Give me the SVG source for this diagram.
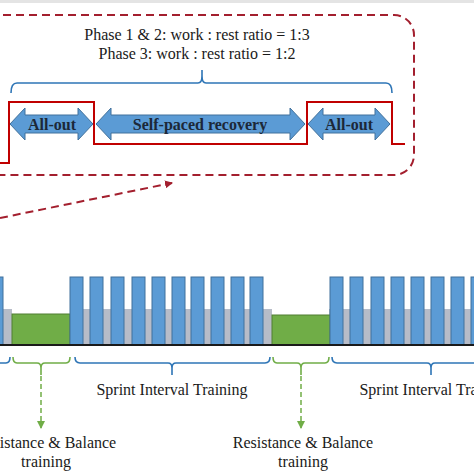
<svg xmlns="http://www.w3.org/2000/svg" width="474" height="474" viewBox="0 0 474 474">
<style>
.t{font-family:"Liberation Serif","Times New Roman",serif;font-size:16px;fill:#1a1a1a;text-anchor:middle}
.b{font-family:"Liberation Serif","Times New Roman",serif;font-size:16px;font-weight:bold;fill:#1c2838;text-anchor:middle}
.bar{fill:#5B9BD5;stroke:#41719C;stroke-width:1}
.rest{fill:#B7BCC8}
.grn{fill:#70AD47;stroke:#507E32;stroke-width:1}
.dbl{fill:#5B9BD5;stroke:#41719C;stroke-width:1}
.braceB{fill:none;stroke:#2E75B6;stroke-width:1.6}
.braceG{fill:none;stroke:#70AD47;stroke-width:1.6}
</style>
<defs>
<marker id="ah" markerWidth="8" markerHeight="8" refX="7" refY="4" orient="auto" markerUnits="userSpaceOnUse"><path d="M0,0 L8,4 L0,8 Z" fill="#A31F2E"/></marker>
<marker id="gh" markerWidth="8" markerHeight="8" refX="7" refY="4" orient="auto" markerUnits="userSpaceOnUse"><path d="M0,0 L8,4 L0,8 Z" fill="#70AD47"/></marker>
</defs>
<rect x="0" y="0" width="474" height="474" fill="#fff"/>
<rect x="0" y="0" width="474" height="3" fill="#e4e4e4"/>

<g id="zoom-box">
<path d="M-10,15 H394 A20,20 0 0 1 414,35 V155 A20,20 0 0 1 394,175 H-10" fill="none" stroke="#A31F2E" stroke-width="2" stroke-dasharray="8,5"/>
<text class="t" x="197" y="40">Phase 1 &amp; 2: work : rest ratio = 1:3</text>
<text class="t" x="197" y="59">Phase 3: work : rest ratio = 1:2</text>
<path class="braceB" d="M11,93 Q11,83 17,83 H198 Q202,83 202,76 L202,70 M202,76 Q202,83 206,83 H386 Q392,83 392,93"/>
<path d="M0,163 H9 V102 H94 V144 H307 V102 H392 V144 H405" fill="none" stroke="#C00000" stroke-width="2"/>
</g>

<g id="all-out-1">
<path class="dbl" d="M10,124 L25,108 V115 H78 V108 L93,124 L78,140 V133 H25 V140 Z"/>
<text class="b" x="52" y="130">All-out</text>
</g>
<g id="self-paced">
<path class="dbl" d="M96,124 L111,108 V115 H290 V108 L305,124 L290,140 V133 H111 V140 Z"/>
<text class="b" x="200" y="130">Self-paced recovery</text>
</g>
<g id="all-out-2">
<path class="dbl" d="M308,124 L323,108 V115 H375 V108 L390,124 L375,140 V133 H323 V140 Z"/>
<text class="b" x="349" y="130">All-out</text>
</g>

<g id="connectors">
<line x1="0" y1="218" x2="172" y2="183" stroke="#A31F2E" stroke-width="2" stroke-dasharray="8,5" marker-end="url(#ah)"/>
<line x1="41" y1="376" x2="41" y2="428" stroke="#70AD47" stroke-width="1.5" stroke-dasharray="5,3" marker-end="url(#gh)"/>
<line x1="301" y1="376" x2="301" y2="428" stroke="#70AD47" stroke-width="1.5" stroke-dasharray="5,3" marker-end="url(#gh)"/>
</g>

<g id="chart">
<rect class="rest" x="0" y="309" width="12" height="36"/>
<rect class="rest" x="70" y="309" width="202" height="36"/>
<rect class="rest" x="329" y="309" width="145" height="36"/>
<rect class="grn" x="12" y="314" width="58" height="31"/>
<rect class="grn" x="272" y="315" width="58" height="30"/>
<rect class="bar" x="-10" y="277" width="13" height="68"/>
<rect class="bar" x="70" y="277" width="13" height="68"/>
<rect class="bar" x="90" y="277" width="13" height="68"/>
<rect class="bar" x="111" y="277" width="13" height="68"/>
<rect class="bar" x="132" y="277" width="13" height="68"/>
<rect class="bar" x="152" y="277" width="13" height="68"/>
<rect class="bar" x="172" y="277" width="13" height="68"/>
<rect class="bar" x="191" y="277" width="13" height="68"/>
<rect class="bar" x="211" y="277" width="13" height="68"/>
<rect class="bar" x="231" y="277" width="13" height="68"/>
<rect class="bar" x="250" y="277" width="13" height="68"/>
<rect class="bar" x="330" y="277" width="13" height="68"/>
<rect class="bar" x="350" y="277" width="13" height="68"/>
<rect class="bar" x="371" y="277" width="13" height="68"/>
<rect class="bar" x="391" y="277" width="13" height="68"/>
<rect class="bar" x="411" y="277" width="13" height="68"/>
<rect class="bar" x="431" y="277" width="13" height="68"/>
<rect class="bar" x="451" y="277" width="13" height="68"/>
<rect class="bar" x="471" y="277" width="13" height="68"/>
<line x1="0" y1="345" x2="474" y2="345" stroke="#1a1a1a" stroke-width="2"/>
</g>

<g id="braces">
<path class="braceB" d="M-5,363 H6 Q10,363 10,357"/>
<path class="braceG" d="M13,357 Q13,363 17,363 H37 Q41,363 41,368 L41,375 M41,368 Q41,363 45,363 H66 Q70,363 70,357"/>
<path class="braceB" d="M75,357 Q75,363 80,363 H168 Q172,363 172,368 L172,375 M172,368 Q172,363 176,363 H265 Q270,363 270,357"/>
<path class="braceG" d="M273,357 Q273,363 277,363 H297 Q301,363 301,368 L301,375 M301,368 Q301,363 305,363 H325 Q329,363 329,357"/>
<path class="braceB" d="M332,357 Q332,363 337,363 H427 Q431,363 431,368 L431,375 M431,368 Q431,363 435,363 H480"/>
</g>

<g id="labels">
<text class="t" x="172" y="395">Sprint Interval Training</text>
<text class="t" x="435" y="395">Sprint Interval Training</text>
<text class="t" x="46" y="448">Resistance &amp; Balance</text>
<text class="t" x="46" y="467">training</text>
<text class="t" x="303" y="448">Resistance &amp; Balance</text>
<text class="t" x="303" y="467">training</text>
</g>
</svg>
